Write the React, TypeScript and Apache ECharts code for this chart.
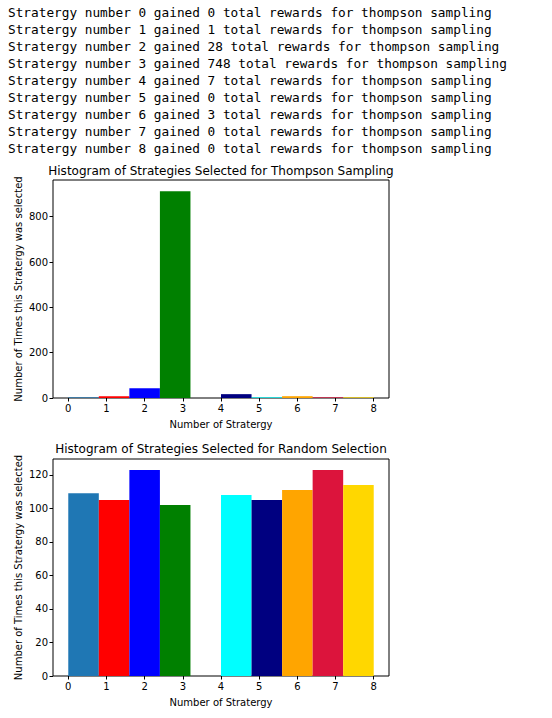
import React, { useEffect, useRef } from 'react'
import * as echarts from 'echarts'

// texto de salida impreso encima de los gráficos
const rewards = [0, 1, 28, 748, 7, 0, 3, 0, 0]

// histograma: 10 contenedores entre 0 y 8
const binCount = 10
const xTicks = [0, 1, 2, 3, 4, 5, 6, 7, 8]

const thompsonCounts = [3, 8, 43, 912, 0, 17, 3, 8, 3, 3]
const thompsonColors = ['#1f77b4', 'red', 'blue', 'green', 'purple', 'navy', 'cyan', 'orange', 'crimson', 'gold']
const thompsonTicks = [0, 200, 400, 600, 800]

const randomCounts = [109, 105, 123, 102, 0, 108, 105, 111, 123, 114]
const randomColors = ['#1f77b4', 'red', 'blue', 'green', 'purple', 'cyan', 'navy', 'orange', 'crimson', 'gold']
const randomTicks = [0, 20, 40, 60, 80, 100, 120]

const font = 'DejaVu Sans'

const binData = (counts) =>
	counts.map((v, i) => [(i * 8) / binCount, ((i + 1) * 8) / binCount, v])

const renderBin = (colors) => (params, api) => {
	const start = api.coord([api.value(0), api.value(2)])
	const end = api.coord([api.value(1), 0])
	return {
		type: 'rect',
		shape: { x: start[0], y: start[1], width: end[0] - start[0], height: end[1] - start[1] },
		style: { fill: colors[params.dataIndex] },
	}
}

const xAxisFor = (gridIndex) => ({
	type: 'value',
	gridIndex,
	min: -0.4,
	max: 8.4,
	name: 'Number of Stratergy',
	nameLocation: 'middle',
	nameGap: 21,
	nameMoveOverlap: false,
	nameTextStyle: { fontFamily: font, fontSize: 10, color: '#000' },
	axisLine: { show: false, onZero: false },
	splitLine: { show: false },
	axisTick: { show: true, length: 3.5, lineStyle: { color: '#000' }, customValues: xTicks },
	axisLabel: { fontFamily: font, fontSize: 10, color: '#000', margin: 5, customValues: xTicks },
})

const yAxisFor = (gridIndex, max, ticks) => ({
	type: 'value',
	gridIndex,
	min: 0,
	max,
	name: 'Number of Times this Stratergy was selected',
	nameLocation: 'middle',
	nameGap: 30,
	nameMoveOverlap: false,
	nameTextStyle: { fontFamily: font, fontSize: 10, color: '#000' },
	axisLine: { show: false, onZero: false },
	splitLine: { show: false },
	axisTick: { show: true, length: 3.5, lineStyle: { color: '#000' }, customValues: ticks },
	axisLabel: { fontFamily: font, fontSize: 10, color: '#000', margin: 5, customValues: ticks },
})

const App = () => {
	const chartRef = useRef(null)

	useEffect(() => {
		const chart = echarts.init(chartRef.current, null, { renderer: 'svg' })

		const lines = rewards.map((r, i) => ({
			type: 'text',
			left: 8,
			top: 5.5 + i * 17.1,
			style: {
				text: `Stratergy number ${i} gained ${r} total rewards for thompson sampling`,
				fontFamily: 'DejaVu Sans Mono',
				fontSize: 12.75,
				fill: '#000',
			},
		}))

		chart.setOption({
			animation: false,
			title: [
				{
					text: 'Histogram of Strategies Selected for Thompson Sampling',
					left: 216,
					top: 160,
					textAlign: 'center',
					textStyle: { fontFamily: font, fontSize: 12, fontWeight: 'normal', color: '#000' },
				},
				{
					text: 'Histogram of Strategies Selected for Random Selection',
					left: 216,
					top: 438,
					textAlign: 'center',
					textStyle: { fontFamily: font, fontSize: 12, fontWeight: 'normal', color: '#000' },
				},
			],
			graphic: lines,
			grid: [
				{ left: 53, top: 180, width: 336, height: 218, show: true, borderColor: '#000', borderWidth: 1 },
				{ left: 53, top: 459, width: 336, height: 217, show: true, borderColor: '#000', borderWidth: 1 },
			],
			xAxis: [xAxisFor(0), xAxisFor(1)],
			yAxis: [yAxisFor(0, 962, thompsonTicks), yAxisFor(1, 129.5, randomTicks)],
			series: [
				{
					type: 'custom',
					xAxisIndex: 0,
					yAxisIndex: 0,
					renderItem: renderBin(thompsonColors),
					encode: { x: [0, 1], y: 2 },
					data: binData(thompsonCounts),
				},
				{
					type: 'custom',
					xAxisIndex: 1,
					yAxisIndex: 1,
					renderItem: renderBin(randomColors),
					encode: { x: [0, 1], y: 2 },
					data: binData(randomCounts),
				},
			],
		})

		return () => {
			chart.dispose()
		}
	}, [])

	return (
		<div
			ref={chartRef}
			style={{ position: 'absolute', left: 0, top: 0, width: '552px', height: '718px' }}
		/>
	)
}

export default App
